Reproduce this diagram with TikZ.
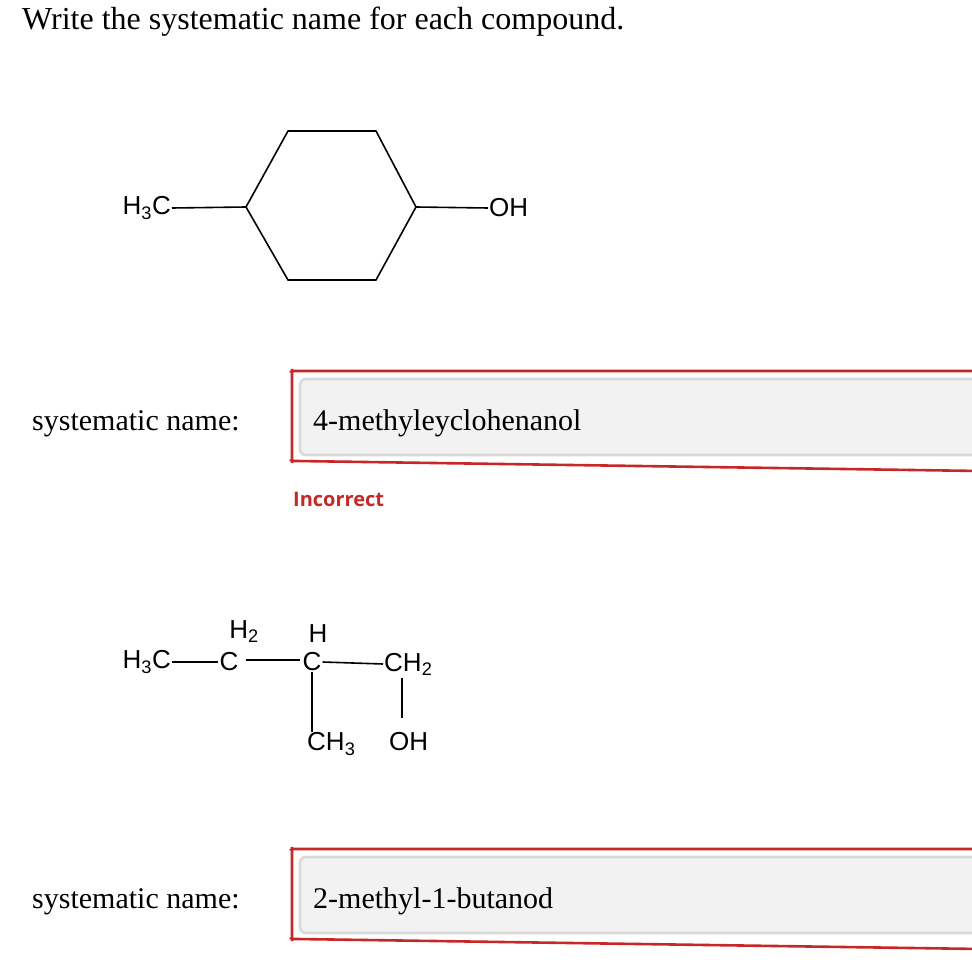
\documentclass[tikz,border=0pt]{standalone}
\usepackage{fontspec}
\usetikzlibrary{calc}
\setmainfont{Liberation Serif}
\newfontfamily\chem{Liberation Sans}
\newfontfamily\osb{Open Sans}
\definecolor{errred}{HTML}{C62828}
\definecolor{boxgray}{HTML}{F2F2F2}
\definecolor{boxedge}{HTML}{DADADA}
\begin{document}
\begin{tikzpicture}[x=1pt,y=-1pt,
  serif/.style={inner sep=0,anchor=base west,font=\fontsize{30}{36}\selectfont},
  atomlbl/.style={inner sep=1pt,font=\chem\fontsize{26}{30}\selectfont},
  bond/.style={line width=1.6pt},
  outerbox/.style={draw=errred,line width=2.6pt,rounded corners=5pt},
  innerbox/.style={draw=boxedge,fill=boxgray,line width=2.6pt,rounded corners=6pt}]
\useasboundingbox (0,0) rectangle (972,968);
\node[serif,font=\fontsize{32}{38}\selectfont] (title) at (22,30) {Write the systematic name for each compound.};
% cyclohexane
\coordinate (v1) at (288,131); \coordinate (v2) at (376,131); \coordinate (v3) at (416,207);
\coordinate (v4) at (376,280); \coordinate (v5) at (288,280); \coordinate (v6) at (246,207);
\draw[bond,line join=round] (v1)--(v2)--(v3)--(v4)--(v5)--(v6)--cycle;
\node[atomlbl,anchor=east] (me) at (172,208) {H\textsubscript{3}C};
\node[atomlbl,anchor=west] (oh) at (488,208) {OH};
\draw[bond] (me.east) -- (v6);
\draw[bond] (v3) -- (oh.west);
% box 1
\draw[outerbox] (980,371) -- (297,371) arc[start angle=90,end angle=180,radius=5] -- (292,466) arc[start angle=180,end angle=270,radius=5] -- (980,471);
\draw[innerbox] (980,379) -- (300,379) -- (300,455) -- (980,455);
\node[serif] (lab1) at (32,430) {systematic name:};
\node[serif] (ans1) at (313,430) {4-methyleyclohenanol};
\node[inner sep=0,anchor=base west,text=errred,font=\osb\bfseries\fontsize{20}{24}\selectfont] (inc) at (293,506) {Incorrect};
% structure 2
\node[atomlbl,anchor=east] (c1) at (172,662) {H\textsubscript{3}C};
\node[atomlbl] (c2) at (229,662) {C};
\node[atomlbl,anchor=south] (h2) at (244,644) {H\textsubscript{2}};
\node[atomlbl] (c3) at (312,662) {C};
\node[atomlbl,anchor=south] (h) at (318,644) {H};
\node[atomlbl,anchor=west] (c4) at (383,664) {CH\textsubscript{2}};
\node[atomlbl,anchor=west] (c5) at (306,744) {CH\textsubscript{3}};
\node[atomlbl,anchor=west] (oh2) at (388,742) {OH};
\draw[bond] (c1.east) -- (c2.west);
\draw[bond] ($(c2.east)+(6,-2)$) -- ($(c3.west)+(-1,-2)$);
\draw[bond] (c3.east) -- (c4.west);
\draw[bond] (c3.south) -- (c5.north -| c3.south);
\draw[bond] (402,678) -- (402,718);
% box 2
\draw[outerbox] (980,849) -- (297,849) arc[start angle=90,end angle=180,radius=5] -- (292,944) arc[start angle=180,end angle=270,radius=5] -- (980,949);
\draw[innerbox] (980,857) -- (300,857) -- (300,933) -- (980,933);
\node[serif] (lab2) at (32,908) {systematic name:};
\node[serif] (ans2) at (313,908) {2-methyl-1-butanod};
\end{tikzpicture}
\end{document}
